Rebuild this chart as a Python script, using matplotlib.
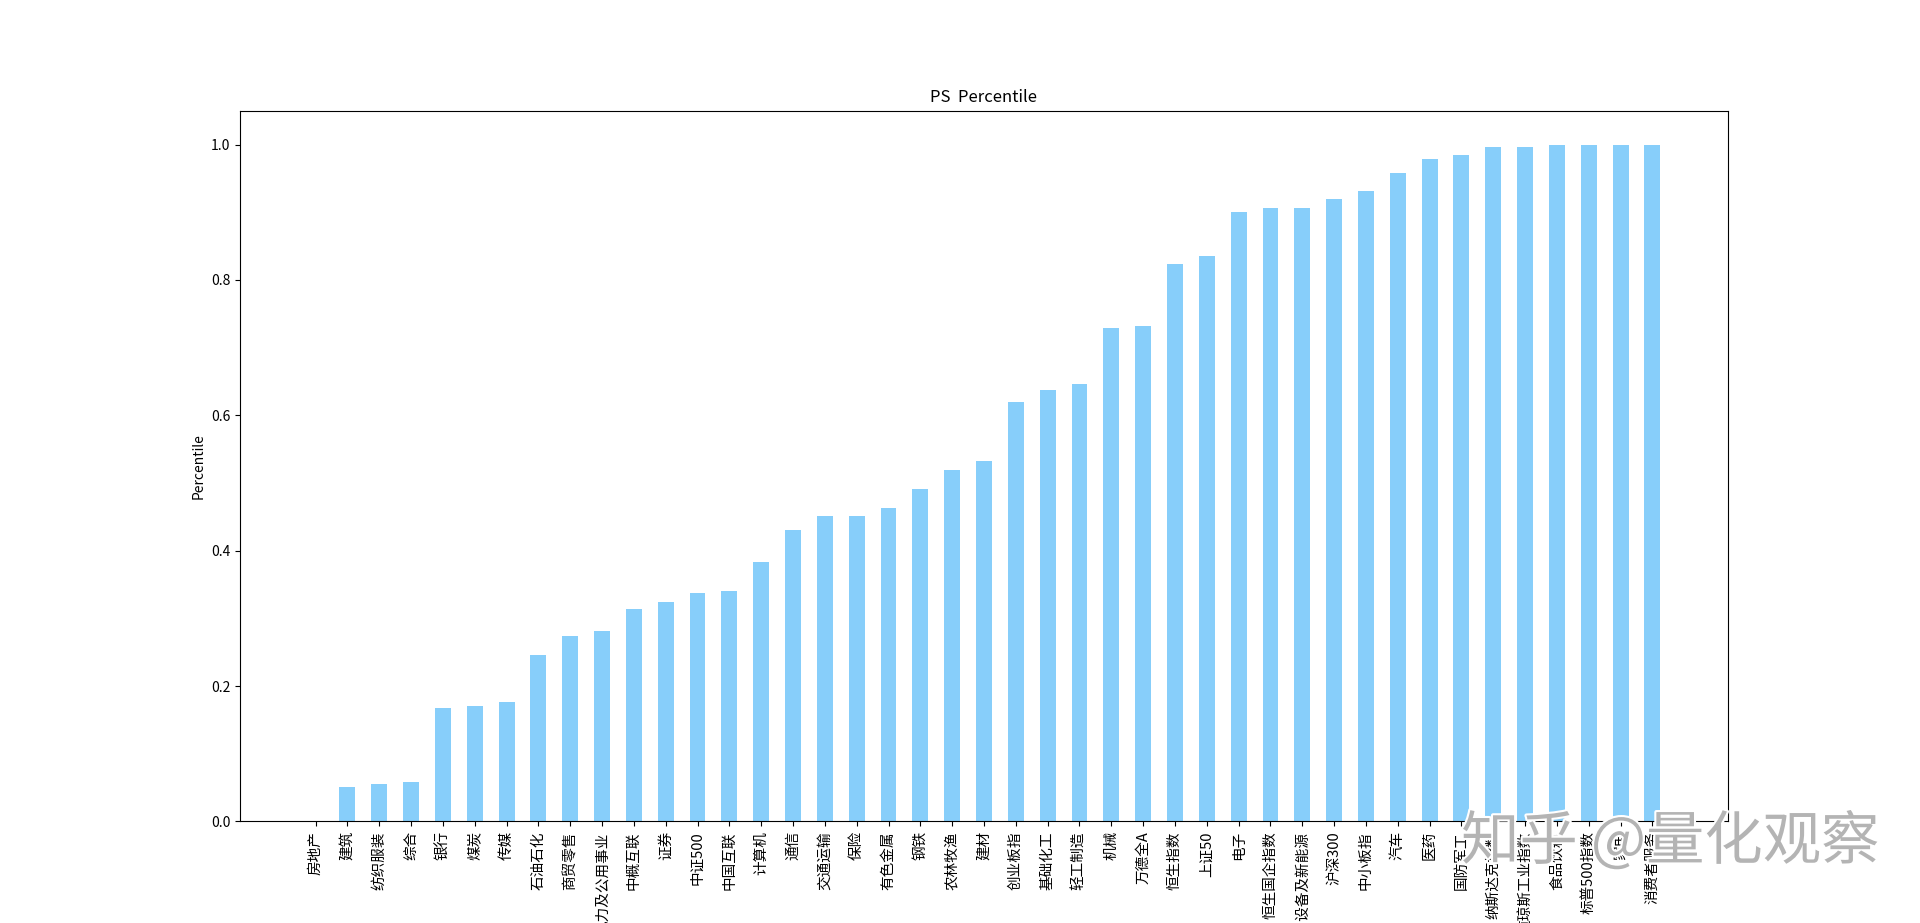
import matplotlib
matplotlib.use("Agg")
import matplotlib.pyplot as plt
import matplotlib.patheffects as pe

plt.rcParams['font.family'] = ['Noto Sans CJK SC', 'DejaVu Sans']
plt.rcParams['axes.unicode_minus'] = False

categories = ['房地产', '建筑', '纺织服装', '综合', '银行', '煤炭', '传媒', '石油石化',
              '商贸零售', '电力及公用事业', '中概互联', '证券', '中证500', '中国互联',
              '计算机', '通信', '交通运输', '保险', '有色金属', '钢铁', '农林牧渔', '建材',
              '创业板指', '基础化工', '轻工制造', '机械', '万德全A', '恒生指数', '上证50',
              '电子', '恒生国企指数', '电力设备及新能源', '沪深300', '中小板指', '汽车',
              '医药', '国防军工', '纳斯达克指数', '道琼斯工业指数', '食品饮料',
              '标普500指数', '家电', '消费者服务']
percentile = [0.0, 0.051, 0.056, 0.059, 0.168, 0.171, 0.177, 0.246,
              0.274, 0.281, 0.314, 0.324, 0.338, 0.341,
              0.383, 0.431, 0.451, 0.451, 0.463, 0.491, 0.519, 0.532,
              0.619, 0.637, 0.647, 0.729, 0.732, 0.824, 0.835,
              0.900, 0.906, 0.907, 0.919, 0.931, 0.958,
              0.978, 0.985, 0.996, 0.996, 0.999,
              0.999, 1.0, 1.0]

fig = plt.figure(figsize=(19.2, 9.23), dpi=100)
ax = fig.add_subplot(111)
x = list(range(len(categories)))
ax.bar(x, percentile, width=0.5, color='#87CEFA')
ax.set_xticks(x)
ax.set_xticklabels(categories, rotation=90, fontsize=10.5)
ax.set_title('PS  Percentile')
ax.set_ylabel('Percentile')

fig.text(0.761, 0.087, '知乎 @量化观察', fontsize=42, color='#b4b4b4', ha='left', va='center',
         path_effects=[pe.withStroke(linewidth=3, foreground='white')], zorder=10)

fig.savefig('out.png', dpi=100)
